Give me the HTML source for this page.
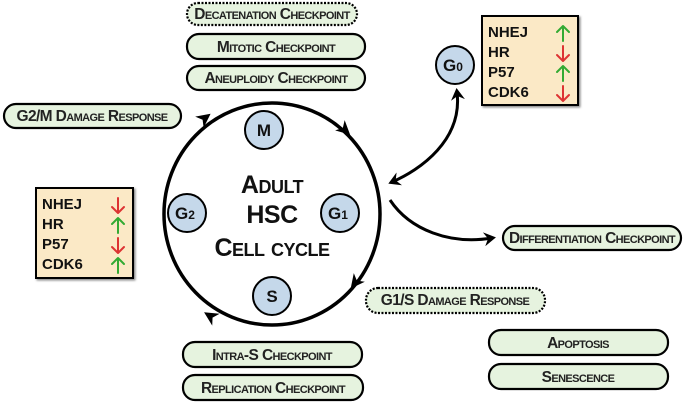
<!DOCTYPE html>
<html><head><meta charset="utf-8"><style>
html,body{margin:0;padding:0;background:#fff;}
svg text{font-family:"Liberation Sans",sans-serif;font-weight:bold;}
.sc{font-variant:small-caps;}
</style></head><body>
<svg width="685" height="402" viewBox="0 0 685 402" xmlns="http://www.w3.org/2000/svg">
<defs>
<marker id="ah" markerWidth="14" markerHeight="14" refX="8" refY="7" orient="auto-start-reverse" markerUnits="userSpaceOnUse">
<path d="M0,0 L12,7 L0,14 L4,7 Z" fill="#000"/></marker>
<filter id="sh"><feDropShadow dx="1.5" dy="1.5" stdDeviation="1" flood-color="#888"/></filter>
</defs>
<g fill="#e6f3df" stroke="#000" stroke-width="2.2">
<rect x="187" y="3" width="170" height="22" rx="11" stroke-dasharray="2 1.5"/>
<rect x="187" y="34" width="178" height="25" rx="12"/>
<rect x="187" y="66" width="178" height="24" rx="12"/>
<rect x="4" y="104" width="177" height="24" rx="12"/>
<rect x="503" y="226" width="178" height="24" rx="12"/>
<rect x="366" y="288" width="179" height="25" rx="12" stroke-dasharray="2 1.5"/>
<rect x="489" y="330" width="179" height="25" rx="12"/>
<rect x="489" y="364" width="179" height="25" rx="12"/>
<rect x="183" y="342" width="179" height="25" rx="12"/>
<rect x="183" y="375" width="180" height="25" rx="12"/>
</g>
<g font-size="15.5" text-anchor="middle" class="sc" fill="#222" letter-spacing="-0.6">
<text x="272" y="19">Decatenation Checkpoint</text>
<text x="276" y="52">Mitotic Checkpoint</text>
<text x="276" y="83">Aneuploidy Checkpoint</text>
<text x="92" y="121">G2/M Damage Response</text>
<text x="592" y="243">Differentiation Checkpoint</text>
<text x="455" y="305">G1/S Damage Response</text>
<text x="578" y="348">Apoptosis</text>
<text x="578" y="382">Senescence</text>
<text x="272" y="360">Intra-S Checkpoint</text>
<text x="273" y="393">Replication Checkpoint</text>
</g>
<ellipse cx="272" cy="214" rx="108" ry="111" fill="none" stroke="#000" stroke-width="3.5"/>
<g fill="#000">
<path d="M-7,-7 L7,0 L-7,7 L-3,0 Z" transform="translate(205,118) rotate(-37)"/>
<path d="M-7,-7 L7,0 L-7,7 L-3,0 Z" transform="translate(345,130) rotate(43)"/>
<path d="M-7,-7 L7,0 L-7,7 L-3,0 Z" transform="translate(355,283) rotate(128)"/>
<path d="M-7,-7 L7,0 L-7,7 L-3,0 Z" transform="translate(210,316) rotate(212)"/>
</g>
<g fill="#c5d8ea" stroke="#000" stroke-width="2">
<circle cx="264" cy="130" r="19"/>
<circle cx="187" cy="213" r="19"/>
<circle cx="340" cy="213" r="19"/>
<circle cx="272" cy="296" r="19"/>
<circle cx="455" cy="65" r="19"/>
</g>
<g font-size="17" text-anchor="middle" fill="#111">
<text x="264" y="136">M</text>
<text x="185" y="219">G<tspan font-size="12">2</tspan></text>
<text x="338" y="219">G<tspan font-size="12">1</tspan></text>
<text x="272" y="302">S</text>
<text x="453" y="71">G<tspan font-size="12">0</tspan></text>
</g>
<g font-size="25" text-anchor="middle" class="sc" fill="#111" letter-spacing="-0.5">
<text x="272" y="193">Adult</text>
<text x="272" y="223">HSC</text>
<text x="272" y="256">Cell cycle</text>
</g>
<path d="M457,92 C463,140 420,170 392,182" fill="none" stroke="#000" stroke-width="3" marker-start="url(#ah)" marker-end="url(#ah)"/>
<path d="M390,200 C410,230 450,245 492,238" fill="none" stroke="#000" stroke-width="3" marker-end="url(#ah)"/>
<g filter="url(#sh)">
<rect x="482" y="16" width="96" height="89" fill="#fbe9c6" stroke="#000" stroke-width="2"/>
<rect x="36" y="188" width="97" height="90" fill="#fbe9c6" stroke="#000" stroke-width="2"/>
</g>
<g font-size="15" fill="#111">
<text x="488" y="37">NHEJ</text><text x="488" y="57">HR</text><text x="488" y="77">P57</text><text x="488" y="97">CDK6</text>
<text x="42" y="209">NHEJ</text><text x="42" y="229">HR</text><text x="42" y="249">P57</text><text x="42" y="269">CDK6</text>
</g>
<g fill="none" stroke-width="2" stroke-linecap="round" stroke-linejoin="round">
<g stroke="#3a3"><path d="M563,41 V26 M557,32 L563,26 L569,32"/><path d="M563,81 V66 M557,72 L563,66 L569,72"/>
<path d="M118,233 V218 M112,224 L118,218 L124,224"/><path d="M118,273 V258 M112,264 L118,258 L124,264"/></g>
<g stroke="#d33"><path d="M563,46 V61 M557,55 L563,61 L569,55"/><path d="M563,86 V101 M557,95 L563,101 L569,95"/>
<path d="M118,198 V213 M112,207 L118,213 L124,207"/><path d="M118,238 V253 M112,247 L118,253 L124,247"/></g>
</g>
</svg>
</body></html>
